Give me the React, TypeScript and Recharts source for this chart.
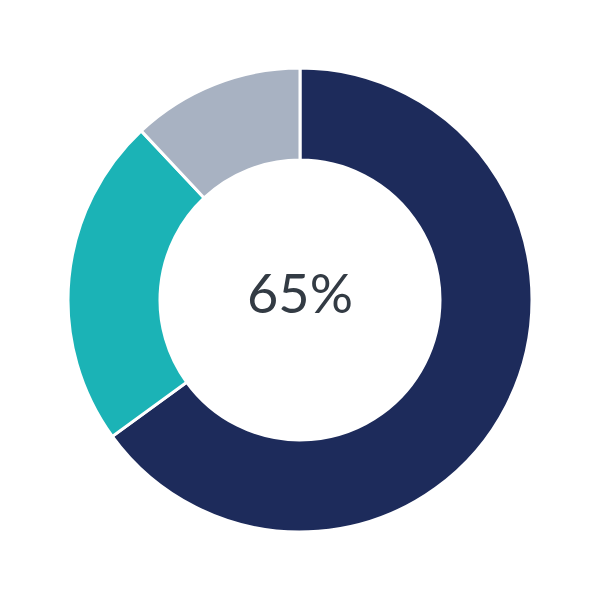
import { PieChart, Pie, Cell } from 'recharts'

const labels = ['Primary', 'Secondary', 'Other']
const values = [65, 23, 12]
const colors = ['#1d2b5b', '#1bb3b6', '#a8b2c2']
const centerLabel = '65%'

const data = labels.map((name, i) => ({ name, value: values[i] }))

export default function App() {
  return (
    <div style={{ position: 'absolute', left: 0, top: 0, width: 600, height: 600, background: '#fff' }}>
      <PieChart width={600} height={600} margin={{ top: 0, right: 0, bottom: 0, left: 0 }}>
        <Pie
          data={data}
          dataKey="value"
          cx={300}
          cy={300}
          innerRadius={140}
          outerRadius={232}
          startAngle={90}
          endAngle={-270}
          stroke="#ffffff"
          strokeWidth={3}
          isAnimationActive={false}
        >
          {data.map((d, i) => (
            <Cell key={d.name} fill={colors[i]} />
          ))}
        </Pie>
        <text
          x={300}
          y={313}
          textAnchor="middle"
          style={{ fontFamily: 'Lato', fontSize: 54, fill: '#333b44' }}
        >
          {centerLabel}
        </text>
      </PieChart>
    </div>
  )
}
